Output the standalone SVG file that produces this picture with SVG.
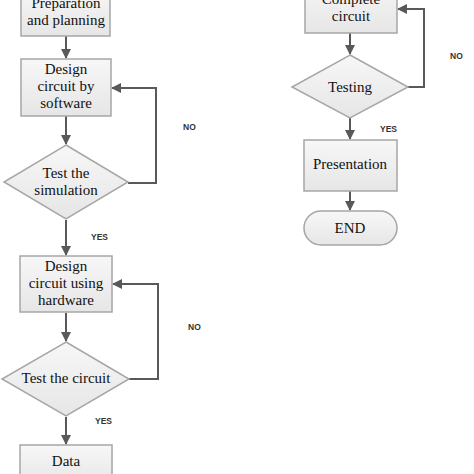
<svg xmlns="http://www.w3.org/2000/svg" width="474" height="474" viewBox="0 0 474 474">
<defs>
<linearGradient id="g" x1="0" y1="0" x2="0" y2="1">
<stop offset="0" stop-color="#f7f7f7"/>
<stop offset="1" stop-color="#e6e6e6"/>
</linearGradient>
<marker id="ah" markerWidth="10" markerHeight="10" refX="9" refY="5" orient="auto" markerUnits="userSpaceOnUse">
<path d="M0,0 L10,5 L0,10 z" fill="#595959"/>
</marker>
<style>
.n{fill:url(#g);stroke:#a6a6a6;stroke-width:1.5}
.t{font-family:"Liberation Serif","Times New Roman",serif;font-size:15px;fill:#111;text-anchor:middle}
.l{font-family:"Liberation Sans",Arial,sans-serif;font-size:8.5px;font-weight:bold;fill:#333}
.c{fill:none;stroke:#595959;stroke-width:2;marker-end:url(#ah)}
</style>
</defs>
<rect width="474" height="474" fill="#fff"/>
<g id="connectors">
<path class="c" d="M66,36 V58"/>
<path class="c" d="M66,116 V144"/>
<path class="c" d="M128,183 H156 V88 H112"/>
<path class="c" d="M66,220 V255"/>
<path class="c" d="M66,313 V341"/>
<path class="c" d="M129,379 H158 V284 H113"/>
<path class="c" d="M66,417 V444"/>
<path class="c" d="M350,33 V54"/>
<path class="c" d="M408,87 H424 V9 H398"/>
<path class="c" d="M350,118 V139"/>
<path class="c" d="M350,191 V210"/>
</g>
<g id="n1"><rect class="n" x="21" y="-12" width="89" height="48"/>
<text class="t" x="66" y="8">Preparation</text><text class="t" x="66" y="25">and planning</text></g>
<g id="n2"><rect class="n" x="21" y="59" width="90" height="57"/>
<text class="t" x="66" y="74">Design</text><text class="t" x="66" y="91">circuit by</text><text class="t" x="66" y="108">software</text></g>
<g id="n3"><polygon class="n" points="66,145 128,182 66,219 4,182"/>
<text class="t" x="66" y="178">Test the</text><text class="t" x="66" y="195">simulation</text></g>
<g id="n4"><rect class="n" x="20" y="256" width="92" height="56"/>
<text class="t" x="66" y="271">Design</text><text class="t" x="66" y="288">circuit using</text><text class="t" x="66" y="305">hardware</text></g>
<g id="n5"><polygon class="n" points="66,342 129,379 66,416 2,379"/>
<text class="t" x="66" y="383">Test the circuit</text></g>
<g id="n6"><rect class="n" x="20" y="445" width="92" height="40"/>
<text class="t" x="66" y="466">Data</text></g>
<g id="n7"><rect class="n" x="305" y="-20" width="92" height="53"/>
<text class="t" x="351" y="4">Complete</text><text class="t" x="351" y="21">circuit</text></g>
<g id="n8"><polygon class="n" points="350,55 408,87 350,118 292,87"/>
<text class="t" x="350" y="92">Testing</text></g>
<g id="n9"><rect class="n" x="304" y="140" width="93" height="51"/>
<text class="t" x="350" y="169">Presentation</text></g>
<g id="n10"><rect class="n" x="304" y="211" width="93" height="34" rx="17" ry="17"/>
<text class="t" x="350" y="233">END</text></g>
<g id="labels">
<text class="l" x="183" y="130">NO</text>
<text class="l" x="91" y="240">YES</text>
<text class="l" x="188" y="330">NO</text>
<text class="l" x="95" y="424">YES</text>
<text class="l" x="450" y="59">NO</text>
<text class="l" x="380" y="132">YES</text>
</g>
</svg>
